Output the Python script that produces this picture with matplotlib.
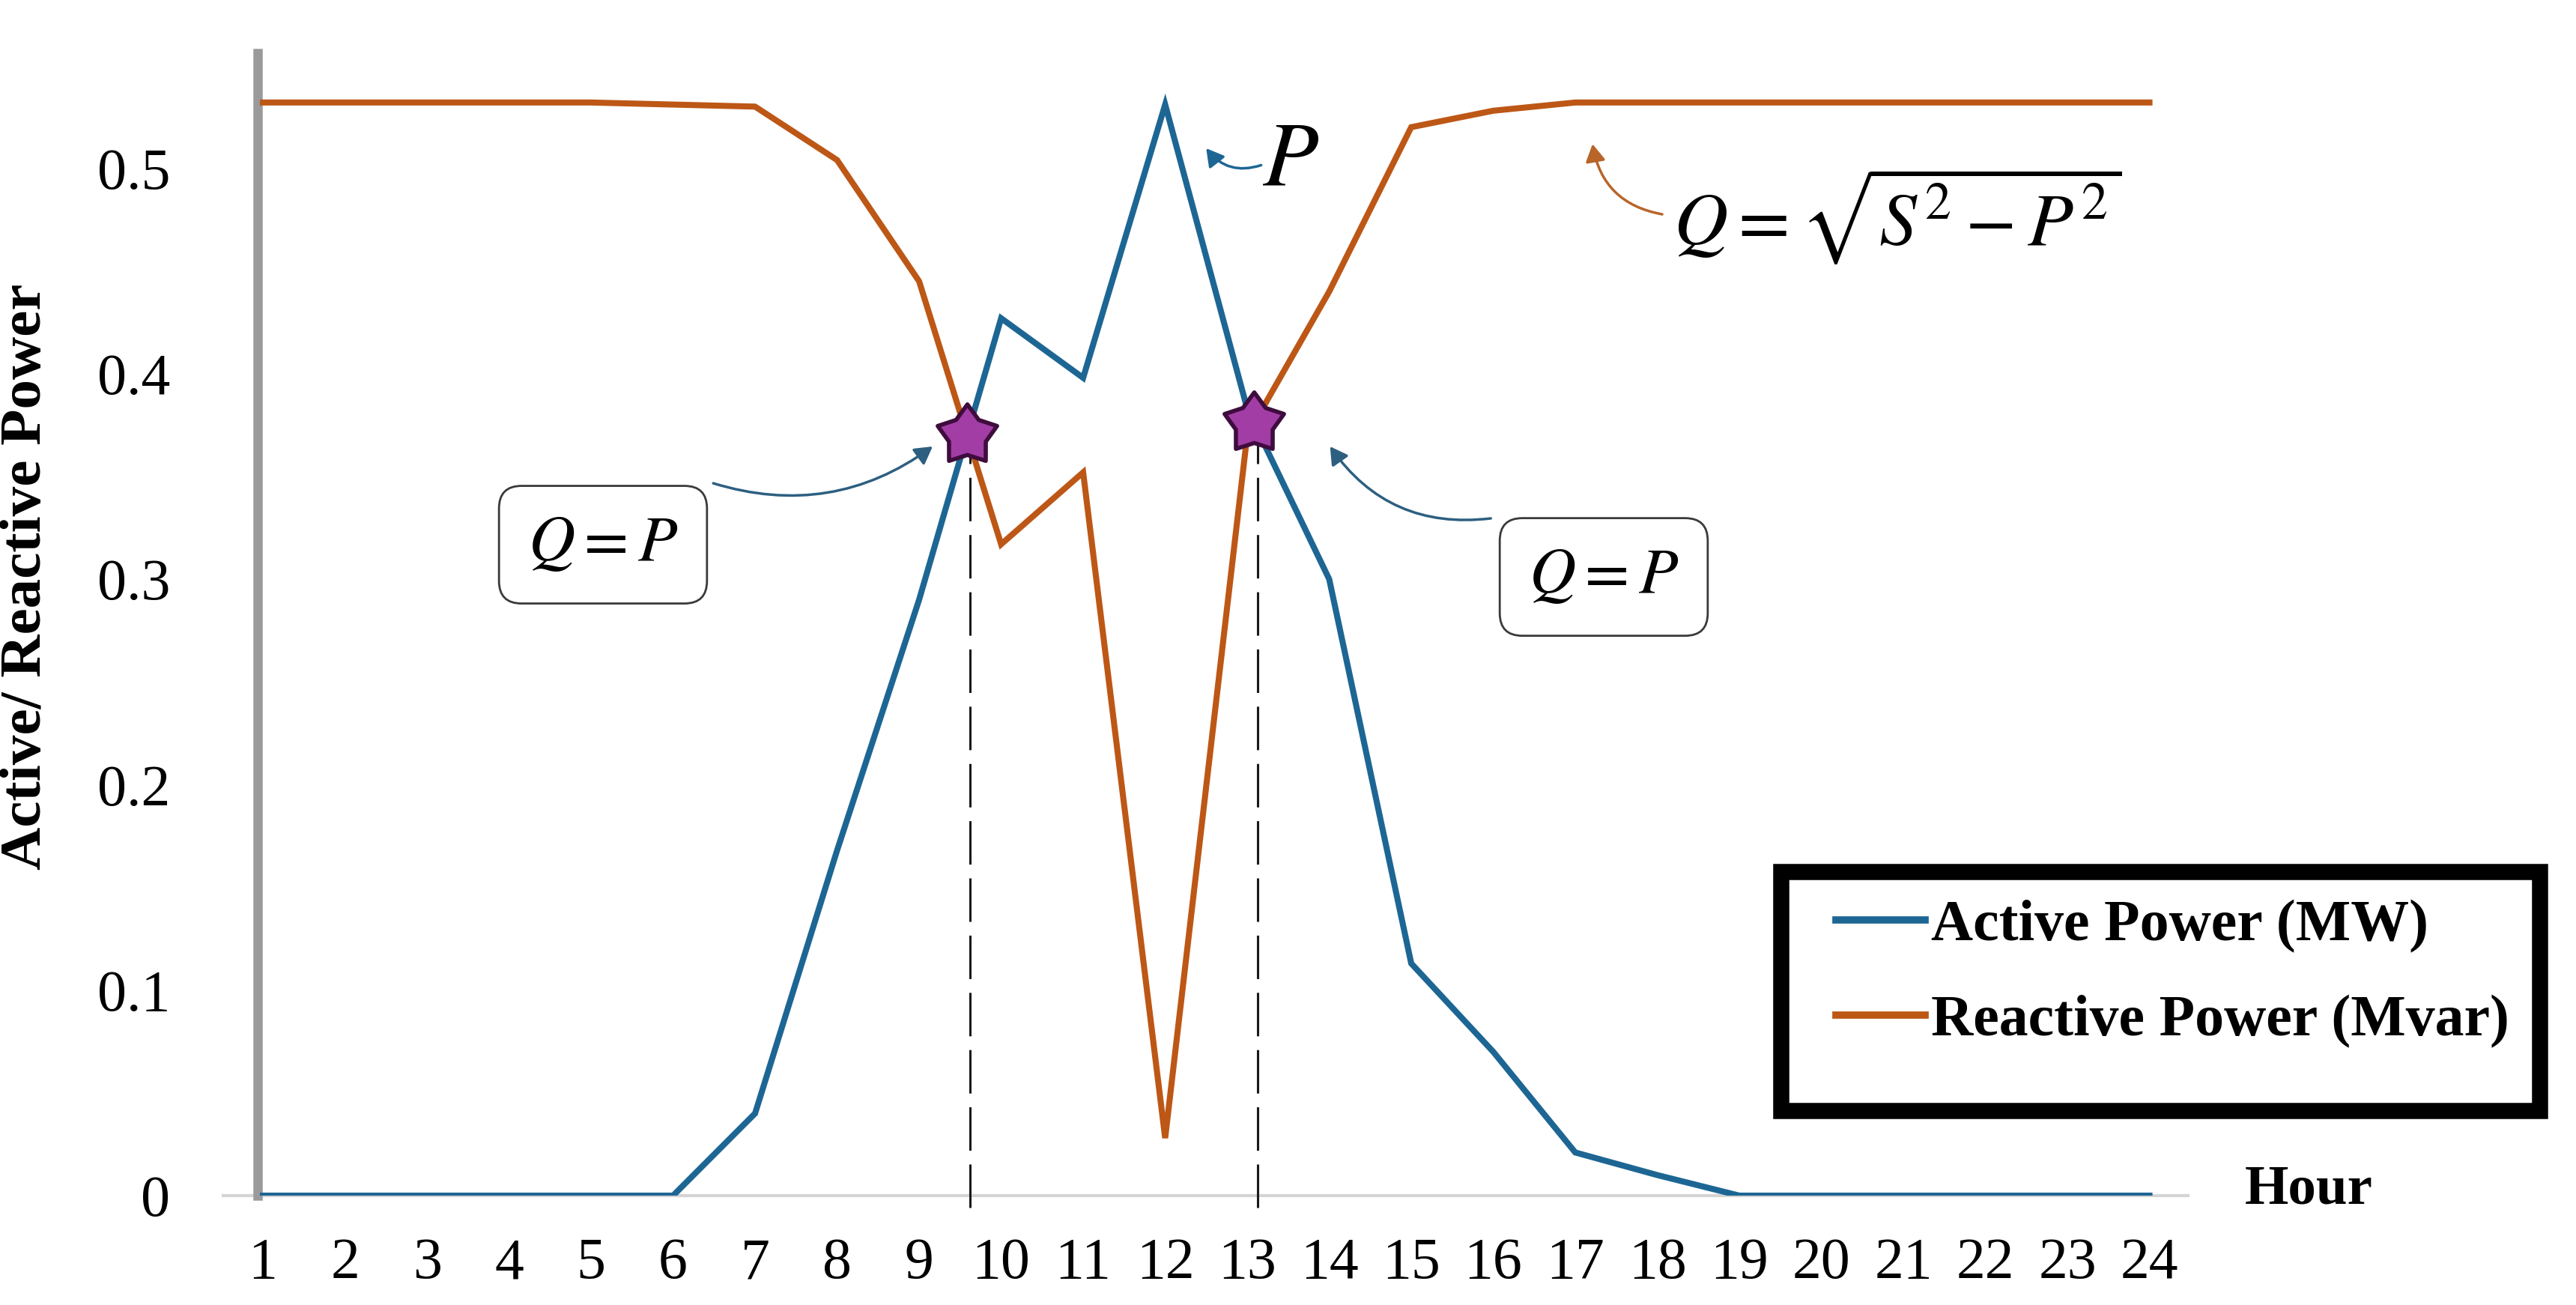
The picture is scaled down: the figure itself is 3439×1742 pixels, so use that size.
import numpy as np
import matplotlib
matplotlib.use("Agg")
import matplotlib.pyplot as plt
from matplotlib.patches import Rectangle, FancyArrowPatch
from matplotlib.path import Path

# ---------------- data ----------------
hours = list(range(1, 25))
active_power = [0, 0, 0, 0, 0, 0, 0.04, 0.168, 0.29, 0.427, 0.398, 0.531,
                0.383, 0.30, 0.113, 0.07, 0.021, 0.01, 0, 0, 0, 0, 0, 0]
reactive_power = [0.532, 0.532, 0.532, 0.532, 0.532, 0.531, 0.530, 0.504, 0.445,
                  0.317, 0.352, 0.028, 0.370, 0.440, 0.520, 0.528, 0.532, 0.532,
                  0.532, 0.532, 0.532, 0.532, 0.532, 0.532]
y_ticks = [0, 0.1, 0.2, 0.3, 0.4, 0.5]
y_tick_labels = ["0", "0.1", "0.2", "0.3", "0.4", "0.5"]
series_labels = ["Active Power (MW)", "Reactive Power (Mvar)"]

# ---------------- style ----------------
plt.rcParams['font.family'] = ['Liberation Serif', 'DejaVu Serif']
plt.rcParams['mathtext.fontset'] = 'stix'

C_P = '#1d6694'
C_Q = '#bd5716'
W, H = 3439, 1742
fig = plt.figure(figsize=(W / 100, H / 100), dpi=100)
ax = fig.add_axes([344 / W, (H - 1596) / H, (2921 - 344) / W, (1596 - 71) / H])

ax.plot(hours, active_power, color=C_P, lw=5.8, solid_joinstyle='miter',
        label=series_labels[0], zorder=3)
ax.plot(hours, reactive_power, color=C_Q, lw=5.8, solid_joinstyle='miter',
        label=series_labels[1], zorder=3)

ax.set_xlim(0.936, 24.47)
ax.set_ylim(0, 0.556)
ax.set_xticks(hours)
ax.set_xticklabels([str(h) for h in hours])
ax.set_yticks(y_ticks)
ax.set_yticklabels(y_tick_labels)
ax.tick_params(axis='both', length=0, labelsize=56)
ax.tick_params(axis='y', pad=84)
ax.tick_params(axis='x', pad=40)

for s in ['top', 'right', 'bottom']:
    ax.spines[s].set_visible(False)
ax.spines['left'].set_color('#9a9a9a')
ax.spines['left'].set_linewidth(9)
ax.axhline(0, xmin=-0.018, xmax=1.0, color='#d4d4d4', lw=3, clip_on=False, zorder=1)

ax.set_ylabel("Active/ Reactive Power", fontsize=57, fontweight='bold')
ax.yaxis.set_label_coords(-0.106, 0.5416)
ax.set_xlabel("Hour", fontsize=54, fontweight='bold')
ax.xaxis.set_label_coords(1.0625, 0.0046)
ax.xaxis.label.set_va('center')

# ---------------- crossing points (computed from data) ----------------
P = np.array(active_power)
Q = np.array(reactive_power)
hx = np.array(hours, dtype=float)
d = P - Q
cross = []
for i in range(len(d) - 1):
    if d[i] * d[i + 1] < 0:
        t = d[i] / (d[i] - d[i + 1])
        xc = hx[i] + t * (hx[i + 1] - hx[i])
        yc = P[i] + t * (P[i + 1] - P[i])
        cross.append((xc, yc))

star_path = Path.unit_regular_star(5, innerCircle=0.62)
for xc, yc in cross:
    ax.plot([xc + 0.04, xc + 0.04], [-0.006, yc], color='#1a1a1a', lw=2.2,
            linestyle=(0, (19, 6)), zorder=2, clip_on=False)
    ax.plot([xc], [yc], marker=star_path, markersize=60, color='#a23da6',
            markeredgecolor='#3f0c3e', markeredgewidth=4, zorder=5,
            solid_joinstyle='round')

# ---------------- annotations ----------------
box = dict(boxstyle='round,pad=0.45,rounding_size=0.35', fc='white',
           ec='#3a3a3a', lw=2)
ax.text(5.146, 0.3168, r'$Q=P$', fontsize=62, ha='center', va='center',
        bbox=box, zorder=6)
ax.text(17.347, 0.3011, r'$Q=P$', fontsize=62, ha='center', va='center',
        bbox=box, zorder=6)
ax.text(13.53, 0.503, r'$P$', fontsize=88, ha='center', va='center', zorder=6)
ax.text(18.2, 0.477, r'$Q=\sqrt{S^2-P^2}$', fontsize=72, ha='left',
        va='center', zorder=6)

arrow_c = '#2d5f80'


def curved_arrow(p_from, p_to, color, rad):
    a = FancyArrowPatch(p_from, p_to, connectionstyle=f'arc3,rad={rad}',
                        arrowstyle='-|>,head_length=14,head_width=8',
                        color=color, lw=2.5, zorder=6, shrinkA=0, shrinkB=0)
    ax.add_patch(a)


curved_arrow((6.49, 0.3467), (9.165, 0.3646), arrow_c, 0.25)
curved_arrow((15.97, 0.3296), (14.01, 0.3646), arrow_c, -0.3)
curved_arrow((13.17, 0.5015), (12.50, 0.5097), C_P, -0.35)
curved_arrow((18.06, 0.4776), (17.21, 0.5118), '#b8652a', -0.35)

# ---------------- legend ----------------
fig.patches.append(Rectangle((2378 / W, (H - 1483) / H), (3391 - 2378) / W,
                             (1483 - 1164) / H, transform=fig.transFigure,
                             fill=False, ec='black', lw=15.5))
leg = ax.legend(loc='center left', bbox_to_anchor=(2451 / W, (H - 1300) / H),
                bbox_transform=fig.transFigure, frameon=False,
                prop={'size': 56, 'weight': 'bold'}, handlelength=1.53,
                handletextpad=0.1, borderpad=0, labelspacing=0.72,
                borderaxespad=0)
for line in leg.get_lines():
    line.set_linewidth(7)

fig.savefig('out.png', dpi=100, facecolor='white')
